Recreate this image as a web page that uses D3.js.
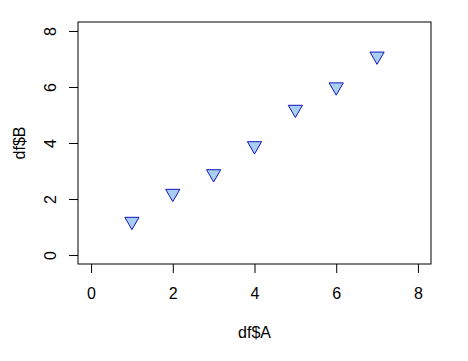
<!DOCTYPE html>
<html>
<head>
<meta charset="utf-8">
<script src="https://cdn.jsdelivr.net/npm/d3@7"></script>
<style>
	body { margin: 0; background: #ffffff; }
	svg { display: block; }
	text { font-family: "Liberation Sans", Arial, sans-serif; fill: #000; }
</style>
</head>
<body>
<svg id="chart" width="468" height="361"></svg>
<script>
/*	Data ------------------------------------------------------------------------*/
var dfA = [1, 2, 3, 4, 5, 6, 7];
var dfB = [1.2, 2.2, 2.9, 3.9, 5.2, 6.0, 7.1];
var xTicks = [0, 2, 4, 6, 8];
var yTicks = [0, 2, 4, 6, 8];
var xLabel = "df$A";
var yLabel = "df$B";

var width = 468, height = 361;
var padding = {left: 78, right: 37, top: 22, bottom: 97};

var svg = d3.select("#chart");

/*	Scales: limits 0..8 plus R's 4% extension -----------------------------------*/
var xScale = d3.scaleLinear()
	.domain([-0.32, 8.32])
	.range([padding.left, width - padding.right]);
var yScale = d3.scaleLinear()
	.domain([-0.32, 8.32])
	.range([height - padding.bottom, padding.top]);

/*	Down pointing triangle like R pch 25 -----------------------------------------*/
var triangleDown = {
	draw: function(context, size) {
		var r = size;
		var xc = r * Math.sqrt(3) / 2;
		context.moveTo(0, r);
		context.lineTo(xc, -r / 2);
		context.lineTo(-xc, -r / 2);
		context.closePath();
	}
};

/*	Points ----------------------------------------------------------------------*/
svg.append("g")
	.attr("class", "points")
	.selectAll("path")
	.data(dfA)
	.enter()
	.append("path")
	.attr("transform", function(d, i) {
		return "translate(" + xScale(d) + "," + yScale(dfB[i]) + ")";
	})
	.attr("d", d3.symbol().type(triangleDown).size(8.2))
	.style("fill", "#a8cff0")
	.style("stroke", "#1414c0")
	.style("stroke-width", "1");

/*	Box around the plot region ---------------------------------------------------*/
svg.append("rect")
	.attr("x", padding.left)
	.attr("y", padding.top)
	.attr("width", width - padding.left - padding.right)
	.attr("height", height - padding.top - padding.bottom)
	.style("fill", "none")
	.style("stroke", "#000")
	.style("stroke-width", "1");

/*	X axis ---------------------------------------------------------------------*/
var xAxis = svg.append("g")
	.attr("transform", "translate(0," + (height - padding.bottom) + ")")
	.call(d3.axisBottom(xScale).tickValues(xTicks).tickFormat(d3.format("d"))
		.tickSize(9).tickPadding(15));
xAxis.select(".domain").remove();
xAxis.selectAll("g.tick line").style("stroke", "#000");
xAxis.selectAll("g.tick text")
	.style("font-size", "16px")
	.attr("fill", "#000");

/*	Y axis, labels turned like R's las = 0 --------------------------------------*/
var yAxis = svg.append("g")
	.attr("transform", "translate(" + padding.left + ",0)")
	.call(d3.axisLeft(yScale).tickValues(yTicks).tickFormat(d3.format("d"))
		.tickSize(9));
yAxis.select(".domain").remove();
yAxis.selectAll("g.tick line").style("stroke", "#000");
yAxis.selectAll("g.tick text")
	.attr("transform", "rotate(-90)")
	.attr("x", 0)
	.attr("y", -22)
	.attr("dy", null)
	.attr("text-anchor", "middle")
	.style("font-size", "16px")
	.attr("fill", "#000");

/*	Axis titles ----------------------------------------------------------------*/
svg.append("text")
	.attr("x", (padding.left + width - padding.right) / 2)
	.attr("y", 338)
	.attr("text-anchor", "middle")
	.style("font-size", "16px")
	.text(xLabel);

svg.append("text")
	.attr("transform", "translate(25," + ((padding.top + height - padding.bottom) / 2) + ")rotate(-90)")
	.attr("text-anchor", "middle")
	.style("font-size", "16px")
	.text(yLabel);
</script>
</body>
</html>
